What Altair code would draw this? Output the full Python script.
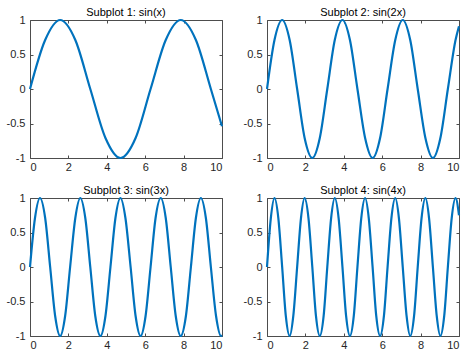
import altair as alt
import pandas as pd

# Values (zero crossings, extrema, half-way points, end points)
x1 = [0, 0.79, 1.57, 2.36, 3.14, 3.93, 4.71, 5.50, 6.28, 7.07, 7.85, 8.64, 9.42, 10]
y1 = [0, 0.71, 1, 0.71, 0, -0.71, -1, -0.71, 0, 0.71, 1, 0.71, 0, -0.54]

x2 = [0, 0.39, 0.79, 1.18, 1.57, 1.96, 2.36, 2.75, 3.14, 3.53, 3.93, 4.32, 4.71,
      5.11, 5.50, 5.89, 6.28, 6.68, 7.07, 7.46, 7.85, 8.25, 8.64, 9.03, 9.42, 9.82, 10]
y2 = [0, 0.71, 1, 0.71, 0, -0.71, -1, -0.71, 0, 0.71, 1, 0.71, 0,
      -0.71, -1, -0.71, 0, 0.71, 1, 0.71, 0, -0.71, -1, -0.71, 0, 0.71, 0.91]

x3 = [0, 0.26, 0.52, 0.79, 1.05, 1.31, 1.57, 1.83, 2.09, 2.36, 2.62, 2.88, 3.14,
      3.40, 3.67, 3.93, 4.19, 4.45, 4.71, 4.97, 5.24, 5.50, 5.76, 6.02, 6.28, 6.54,
      6.81, 7.07, 7.33, 7.59, 7.85, 8.12, 8.38, 8.64, 8.90, 9.16, 9.42, 9.69, 9.95, 10]
y3 = [0, 0.71, 1, 0.71, 0, -0.71, -1, -0.71, 0, 0.71, 1, 0.71, 0,
      -0.71, -1, -0.71, 0, 0.71, 1, 0.71, 0, -0.71, -1, -0.71, 0, 0.71,
      1, 0.71, 0, -0.71, -1, -0.71, 0, 0.71, 1, 0.71, 0, -0.71, -1, -0.99]

x4 = [0, 0.20, 0.39, 0.59, 0.79, 0.98, 1.18, 1.37, 1.57, 1.77, 1.96, 2.16, 2.36,
      2.55, 2.75, 2.95, 3.14, 3.34, 3.53, 3.73, 3.93, 4.12, 4.32, 4.52, 4.71, 4.91,
      5.11, 5.30, 5.50, 5.69, 5.89, 6.09, 6.28, 6.48, 6.68, 6.87, 7.07, 7.27, 7.46,
      7.66, 7.85, 8.05, 8.25, 8.44, 8.64, 8.84, 9.03, 9.23, 9.42, 9.62, 9.82, 10]
y4 = [0, 0.71, 1, 0.71, 0, -0.71, -1, -0.71, 0, 0.71, 1, 0.71, 0,
      -0.71, -1, -0.71, 0, 0.71, 1, 0.71, 0, -0.71, -1, -0.71, 0, 0.71,
      1, 0.71, 0, -0.71, -1, -0.71, 0, 0.71, 1, 0.71, 0, -0.71, -1,
      -0.71, 0, 0.71, 1, 0.71, 0, -0.71, -1, -0.71, 0, 0.71, 1, 0.75]

titles = ["Subplot 1: sin(x)", "Subplot 2: sin(2x)", "Subplot 3: sin(3x)", "Subplot 4: sin(4x)"]
x_ticks = [0, 2, 4, 6, 8, 10]
y_ticks = [-1, -0.5, 0, 0.5, 1]

LINE = "#0072BD"
AXC = "#4d4d4d"
FONT = "Liberation Sans"

def panel(xs, ys, title):
    df = pd.DataFrame({"x": xs, "y": ys})
    xs_ = alt.Scale(domain=[0, 10], nice=False, zero=False)
    ys_ = alt.Scale(domain=[-1, 1], nice=False, zero=False)
    common = dict(domain=False, tickColor=AXC, tickSize=3, offset=-3, grid=False, title=None)
    main = alt.Chart(df).mark_line(color=LINE, strokeWidth=2.2, interpolate="monotone").encode(
        x=alt.X("x:Q", scale=xs_, axis=alt.Axis(orient="bottom", values=x_ticks,
                                                 labelExpr="'' + datum.value",
                                                 labelPadding=3, **common)),
        y=alt.Y("y:Q", scale=ys_, axis=alt.Axis(orient="left", values=y_ticks,
                                                 labelExpr="'' + datum.value",
                                                 labelPadding=5, **common)),
    )
    mirror = alt.Chart(df).mark_line(opacity=0).encode(
        x=alt.X("x:Q", scale=xs_, axis=alt.Axis(orient="top", values=x_ticks, labels=False, **common)),
        y=alt.Y("y:Q", scale=ys_, axis=alt.Axis(orient="right", values=y_ticks, labels=False, **common)),
    )
    return alt.layer(main, mirror).resolve_axis(x="independent", y="independent").properties(
        width=192, height=138,
        title=alt.TitleParams(title, fontSize=11, fontWeight="normal", font=FONT,
                              color="#000000", offset=-4, anchor="middle"),
    )

p1 = panel(x1, y1, titles[0])
p2 = panel(x2, y2, titles[1])
p3 = panel(x3, y3, titles[2])
p4 = panel(x4, y4, titles[3])

row1 = alt.hconcat(p1, p2, spacing=45, bounds="flush")
row2 = alt.hconcat(p3, p4, spacing=45, bounds="flush")
chart = alt.vconcat(row1, row2, spacing=11).configure(
    background="white",
    padding={"left": 5, "top": 6, "right": 5, "bottom": 5},
).configure_view(stroke=AXC, strokeWidth=1).configure_axis(
    labelFont=FONT, labelFontSize=11, labelColor="#262626"
)

chart.save("out.html", embed_options={"renderer": "svg", "actions": False})
